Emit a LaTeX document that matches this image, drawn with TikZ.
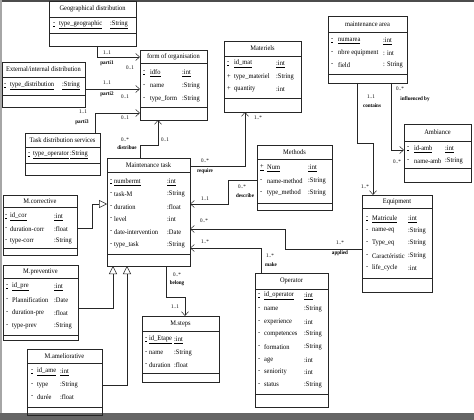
\documentclass[tikz,border=0pt]{standalone}
\usepackage{fontspec}
\setmainfont{Liberation Serif}[FakeStretch=0.92]
\usetikzlibrary{arrows.meta}
\tikzset{
  cls/.style={draw=black!85, line width=0.5pt, anchor=north west, inner sep=0pt, outer sep=0pt},
  sepline/.style={draw=black!85, line width=0.5pt},
  ttl/.style={font=\fontsize{7}{8}\selectfont, inner sep=0pt},
  atx/.style={font=\fontsize{7}{8}\selectfont, anchor=west, inner sep=0pt},
  mult/.style={font=\fontsize{5.5}{6}\selectfont, inner sep=0pt},
  role/.style={font=\bfseries\fontsize{5.5}{6}\selectfont, inner sep=0pt},
  assoc/.style={draw=black!85, line width=0.5pt, -{Straight Barb[length=4pt,width=7pt]}},
  gen/.style={draw=black!85, line width=0.5pt, -{Triangle[open,length=8pt,width=8pt]}},
}
\newcommand\umlbox[8]{%
  \node[cls, minimum width={(#4-#2)*1pt}, minimum height={(#7-#3)*1pt}] (#1) at (#2,#3) {};
  \draw[sepline] (#2,#5) -- (#4,#5) (#2,#6) -- (#4,#6);
  \node[ttl] (#1-title) at ({(#2+#4)/2},{(#3+#5)/2}) {#8};
}
\newcommand\umlattr[8]{%
  \node[atx] (#1-v) at (#2,#5) {#6};
  \node[atx] (#1-n) at (#3,#5) {#7};
  \node[atx] (#1-y) at (#4,#5) {#8};
}
\newcommand\ul[1]{\underline{#1}}
\begin{document}
\begin{tikzpicture}[x=1pt,y=-1pt]
\useasboundingbox (0,0) rectangle (474,420);
\fill[white] (0,0) rectangle (474,420);
% frame
\fill[black!70] (0,0) rectangle (474,2);
\fill[black!60] (0,413) rectangle (474,420);
\fill[black!35] (0,0) rectangle (1.5,413);

% ---- classes ----
\umlbox{geo}{49}{1}{136}{17}{33}{46}{Geographical distribution}
\umlattr{geo-a1}{53}{59}{110}{25}{\ul{-}}{\ul{type\_geographic}}{\ul{:String}}

\umlbox{ext}{2}{62}{85}{77}{95}{107}{External/internal distribution}
\umlattr{ext-a1}{4}{10}{62}{86}{\ul{-}}{\ul{type\_distribution}}{\ul{:String}}

\umlbox{tds}{25}{133}{100}{147}{163}{175}{Task distribution services}
\umlattr{tds-a1}{28}{33}{70}{155}{\ul{-}}{\ul{type\_operator}}{\ul{:String}}

\umlbox{form}{140}{50}{207}{63}{107}{120}{form of organisation}
\umlattr{form-a1}{143}{150}{182}{73}{\ul{-}}{\ul{idfo}}{\ul{:int}}
\umlattr{form-a2}{143}{150}{182}{86}{-}{name}{:String}
\umlattr{form-a3}{143}{150}{182}{99}{-}{type\_form}{:String}

\umlbox{mat}{224}{41}{301}{56}{98}{112}{Materiels}
\umlattr{mat-a1}{227}{234}{276}{64}{\ul{-}}{\ul{id\_mat}}{\ul{:int}}
\umlattr{mat-a2}{227}{234}{276}{77}{+}{type\_materiel}{:String}
\umlattr{mat-a3}{227}{234}{276}{89}{+}{quantity}{:int}

\umlbox{marea}{328}{16}{407}{32}{74}{83}{maintenance area}
\umlattr{marea-a1}{331}{338}{383}{41}{\ul{-}}{\ul{numarea}}{\ul{:int}}
\umlattr{marea-a2}{331}{338}{383}{53}{-}{nbre equipment}{: int}
\umlattr{marea-a3}{331}{338}{383}{65}{-}{field}{: String}

\umlbox{amb}{404}{124}{471}{141}{168}{182}{Ambiance}
\umlattr{amb-a1}{407}{414}{445}{149}{\ul{-}}{\ul{id-amb}}{\ul{:int}}
\umlattr{amb-a2}{407}{414}{445}{161}{-}{name-amb}{:String}

\umlbox{equip}{362}{195}{432}{208}{278}{292}{Equipment}
\umlattr{equip-a1}{366}{372}{408}{219}{\ul{-}}{\ul{Matricule}}{\ul{:int}}
\umlattr{equip-a2}{366}{372}{408}{231}{-}{name-eq}{:String}
\umlattr{equip-a3}{366}{372}{408}{243}{-}{Type\_eq}{:String}
\umlattr{equip-a4}{366}{372}{408}{256}{-}{Caractéristic}{:String}
\umlattr{equip-a5}{366}{372}{408}{268}{-}{life\_cycle}{:int}

\umlbox{meth}{257}{145}{332}{159}{203}{210}{Methods}
\umlattr{meth-a1}{260}{267}{308}{168}{\ul{+}}{\ul{Num}}{\ul{:int}}
\umlattr{meth-a2}{260}{267}{308}{181}{-}{name-method}{:String}
\umlattr{meth-a3}{260}{267}{308}{193}{-}{type\_method}{:String}

\umlbox{mt}{107}{158}{190}{172}{254}{266}{Maintenance task}
\umlattr{mt-a1}{110}{114}{167}{182}{\ul{-}}{\ul{numbermt}}{\ul{:int}}
\umlattr{mt-a2}{110}{114}{167}{194}{-}{task-M}{:String}
\umlattr{mt-a3}{110}{114}{167}{207}{-}{duration}{:float}
\umlattr{mt-a4}{110}{114}{167}{219}{-}{level}{:int}
\umlattr{mt-a5}{110}{114}{167}{232}{-}{date-intervention}{:Date}
\umlattr{mt-a6}{110}{114}{167}{245}{-}{type\_task}{:String}

\umlbox{mcor}{3}{195}{77}{207}{248}{255}{M.corrective}
\umlattr{mcor-a1}{5}{10}{54}{217}{\ul{-}}{\ul{id\_cor}}{\ul{:int}}
\umlattr{mcor-a2}{5}{10}{54}{229}{-}{duration-corr}{:float}
\umlattr{mcor-a3}{5}{10}{54}{241}{-}{type-corr}{:String}

\umlbox{mprev}{3}{265}{78}{278}{335}{340}{M.preventive}
\umlattr{mprev-a1}{6}{12}{54}{287}{\ul{-}}{\ul{id\_pre}}{\ul{:int}}
\umlattr{mprev-a2}{6}{12}{54}{300}{-}{Plannification}{:Date}
\umlattr{mprev-a3}{6}{12}{54}{313}{-}{duration-pre}{:float}
\umlattr{mprev-a4}{6}{12}{54}{326}{-}{type-prev}{:String}

\umlbox{mame}{27}{349}{102}{363}{407}{415}{M.ameliorative}
\umlattr{mame-a1}{31}{37}{60}{372}{\ul{-}}{\ul{id\_ame}}{\ul{:int}}
\umlattr{mame-a2}{31}{37}{60}{385}{-}{type}{:String}
\umlattr{mame-a3}{31}{37}{60}{397}{-}{durée}{:float}

\umlbox{msteps}{142}{316}{219}{331}{373}{382}{M.steps}
\umlattr{msteps-a1}{145}{149}{174}{340}{\ul{-}}{\ul{id\_Etape}}{\ul{:int}}
\umlattr{msteps-a2}{145}{149}{174}{353}{-}{name}{:String}
\umlattr{msteps-a3}{145}{149}{174}{365}{-}{duration}{:float}

\umlbox{oper}{255}{273}{328}{289}{394}{407}{Operator}
\umlattr{oper-a1}{258}{264}{304}{296}{\ul{-}}{\ul{id\_operator}}{\ul{:int}}
\umlattr{oper-a2}{258}{264}{304}{309}{-}{name}{:String}
\umlattr{oper-a3}{258}{264}{304}{322}{-}{experience}{:int}
\umlattr{oper-a4}{258}{264}{304}{334}{-}{competences}{:String}
\umlattr{oper-a5}{258}{264}{304}{347}{-}{formation}{:String}
\umlattr{oper-a6}{258}{264}{304}{360}{-}{age}{:int}
\umlattr{oper-a7}{258}{264}{304}{372}{-}{seniority}{:int}
\umlattr{oper-a8}{258}{264}{304}{385}{-}{status}{:String}

% ---- associations ----
\draw[assoc] (geo.south -| 97,0) -- (97,57) -- (form.west |- 0,57);
\draw[assoc] (ext.east |- 0,89) -- (form.west |- 0,89);
\draw[assoc] (tds.north -| 95,0) -- (95,113) -- (form.west |- 0,113);
\draw[assoc] (mt.north -| 140,0) -- (140,145) -- (158,145) -- (form.south -| 158,0);
\draw[assoc] (mt.east |- 0,166) -- (245,166) -- (mat.south -| 245,0);
\draw[assoc] (meth.west |- 0,180) -- (228,180) -- (228,204) -- (mt.east |- 0,204);
\draw[assoc] (equip.west |- 0,249) -- (285,249) -- (285,229) -- (mt.east |- 0,229);
\draw[assoc] (oper.north -| 261,0) -- (261,248) -- (mt.east |- 0,248);
\draw[assoc] (mt.south -| 166,0) -- (166,297) -- (185,297) -- (msteps.north -| 185,0);
\draw[assoc] (marea.south -| 357,0) -- (357,143) -- (373,143) -- (equip.north -| 373,0);
\draw[assoc] (marea.south -| 391,0) -- (391,150) -- (amb.west |- 0,150);

% ---- generalizations ----
\draw[gen] (mcor.east |- 0,228) -- (92,228) -- (92,204) -- (mt.west |- 0,204);
\draw[gen] (mprev.east |- 0,308) -- (113,308) -- (mt.south -| 113,0);
\draw[gen] (mame.east |- 0,385) -- (127,385) -- (mt.south -| 127,0);

% ---- labels ----
\node[mult] (l1a) at (107,53) {1..1};
\node[role] (l1r) at (107,63) {parti1};
\node[mult] (l1b) at (130,68) {0..1};
\node[mult] (l2a) at (107,83) {1..1};
\node[role] (l2r) at (107,94) {parti2};
\node[mult] (l2b) at (125,97) {0..1};
\node[mult] (l3a) at (83,112) {1..1};
\node[role] (l3r) at (82,122) {parti3};
\node[mult] (l3b) at (125,118) {0..1};
\node[mult] (l4a) at (125,140) {0..*};
\node[role] (l4r) at (127,148) {distribue};
\node[mult] (l4b) at (165,140) {0..1};
\node[mult] (l5a) at (205,161) {0..*};
\node[role] (l5r) at (205,171) {require};
\node[mult] (l5b) at (258,118) {1..*};
\node[mult] (l6a) at (242,187) {0..*};
\node[role] (l6r) at (245,196) {describe};
\node[mult] (l6b) at (205,199) {1..1};
\node[mult] (l7a) at (204,221) {0..*};
\node[mult] (l7b) at (340,243) {1..*};
\node[role] (l7r) at (340,253) {applied};
\node[mult] (l8a) at (205,242) {1..*};
\node[mult] (l8b) at (270,256) {1..*};
\node[role] (l8r) at (271,265) {make};
\node[mult] (l9a) at (177,275) {0..*};
\node[role] (l9r) at (177,283) {belong};
\node[mult] (l9b) at (175,307) {1..1};
\node[mult] (l10a) at (371,97) {1..1};
\node[role] (l10r) at (372,106) {contains};
\node[mult] (l10b) at (365,187) {1..*};
\node[mult] (l11a) at (400,89) {0..*};
\node[role] (l11r) at (415,99) {influenced by};
\node[mult] (l11b) at (397,162) {0..*};
\end{tikzpicture}
\end{document}
